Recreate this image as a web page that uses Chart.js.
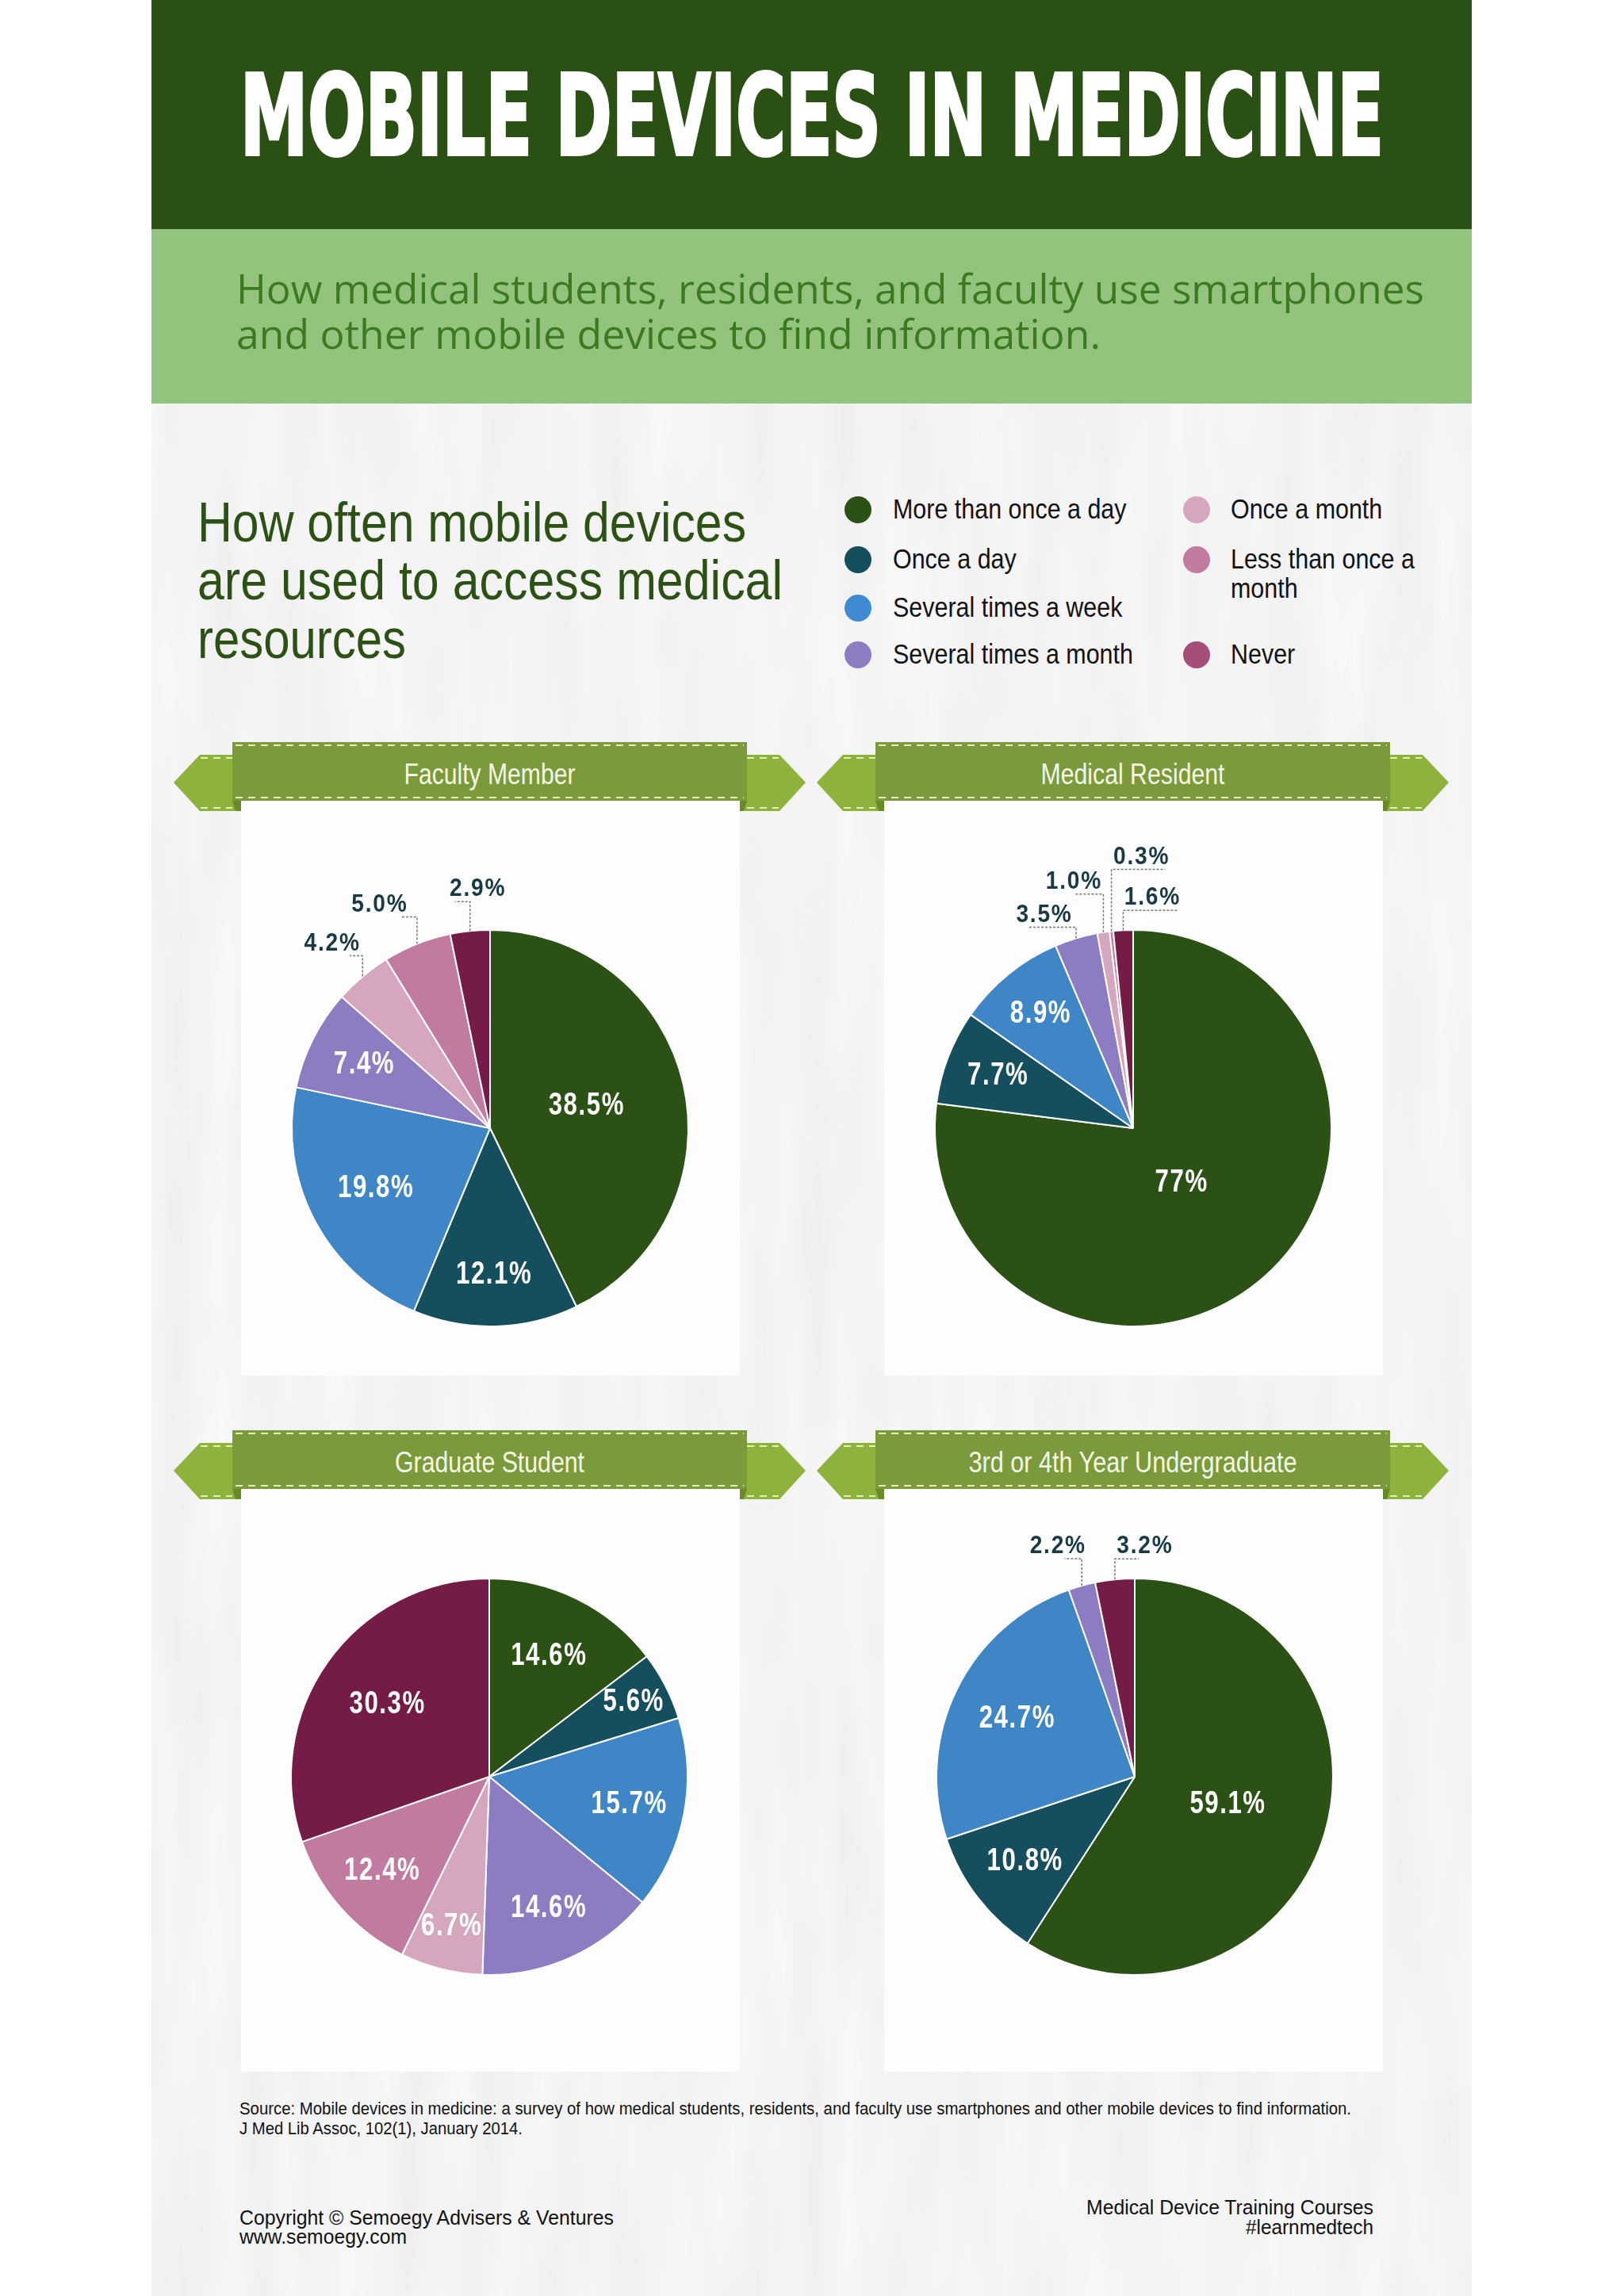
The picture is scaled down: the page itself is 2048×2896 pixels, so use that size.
<!DOCTYPE html>
<html>
<head>
<meta charset="utf-8">
<title>Mobile Devices in Medicine</title>
<script src="https://cdn.jsdelivr.net/npm/chart.js@4.4.1/dist/chart.umd.min.js"></script>
<style>
  html, body { margin: 0; padding: 0; background: #fff; }
  #page { position: relative; width: 2048px; height: 2896px; overflow: hidden; }
  #art { position: absolute; left: 0; top: 0; }
  .pie { position: absolute; width: 800px; height: 800px; }
</style>
</head>
<body>
<div id="page">
  <svg id="art" width="2048" height="2896" xmlns="http://www.w3.org/2000/svg"></svg>
  <canvas id="facultyChart" class="pie" width="800" height="800"></canvas>
  <canvas id="residentChart" class="pie" width="800" height="800"></canvas>
  <canvas id="graduateChart" class="pie" width="800" height="800"></canvas>
  <canvas id="undergradChart" class="pie" width="800" height="800"></canvas>
</div>
<script>
// survey answers, same order for every group
const categories = [
    'More than once a day', 'Once a day', 'Several times a week',
    'Several times a month', 'Once a month', 'Less than once a month', 'Never'
];
const groups = ['Faculty Member', 'Medical Resident', 'Graduate Student', '3rd or 4th Year Undergraduate'];

// percentages as printed on the pies
const facultyValues   = [38.5, 12.1, 19.8, 7.4, 4.2, 5.0, 2.9];
const residentValues  = [77, 7.7, 8.9, 3.5, 1.0, 0.3, 1.6];
const graduateValues  = [14.6, 5.6, 15.7, 14.6, 6.7, 12.4, 30.3];
const undergradValues = [59.1, 10.8, 24.7, 2.2, 0, 0, 3.2];

const sliceColors = ['#2b5114', '#154e5d', '#3f86c7', '#8e7cc3', '#d5a6bd', '#c27ba0', '#741b47'];
const legendDotColors = ['#2b5114', '#154e5d', '#3f8ad2', '#8e7cc3', '#d5a6bd', '#c27ba0', '#a64d79'];

// no narrow face installed: use Liberation Sans squeezed horizontally
const SANS = "'Liberation Sans', Arial, sans-serif";
const SANS_CANVAS = '"Liberation Sans", Arial, sans-serif';

// ---------- static artwork (svg) ----------
const NS = 'http://www.w3.org/2000/svg';
const svg = document.getElementById('art');

function el(tag, attrs, parent) {
    const e = document.createElementNS(NS, tag);
    for (const k in attrs) e.setAttribute(k, attrs[k]);
    (parent || svg).appendChild(e);
    return e;
}
function text(str, attrs) {
    const t = el('text', attrs);
    t.textContent = str;
    return t;
}
const measure = document.createElement('canvas').getContext('2d');
function textWidth(str, size, weight) {
    measure.font = (weight || 'normal') + ' ' + size + 'px ' + SANS_CANVAS;
    return measure.measureText(str).width;
}
function narrowText(str, attrs, size, sx) {
    return text(str, Object.assign({
        'font-family': SANS, 'font-size': size,
        textLength: textWidth(str, size) * sx, lengthAdjust: 'spacingAndGlyphs'
    }, attrs));
}

const defs = el('defs', {});
const paper = el('filter', { id: 'paper', x: 0, y: 0, width: '100%', height: '100%' }, defs);
el('feTurbulence', { type: 'fractalNoise', baseFrequency: '0.02 0.003', numOctaves: 3, seed: 7 }, paper);
el('feColorMatrix', { type: 'saturate', values: 0 }, paper);
const ct = el('feComponentTransfer', {}, paper);
['feFuncR', 'feFuncG', 'feFuncB'].forEach(f => el(f, { type: 'linear', slope: 0.14, intercept: 0.835 }, ct));
el('feFuncA', { type: 'linear', slope: 0, intercept: 1 }, ct);

const SHEET_X = 191, SHEET_W = 1665;
el('rect', { x: SHEET_X, y: 0, width: SHEET_W, height: 2896, fill: '#e7e7e7' });
el('rect', { x: SHEET_X, y: 509, width: SHEET_W, height: 2387, filter: 'url(#paper)' });
el('rect', { x: SHEET_X, y: 0, width: SHEET_W, height: 289, fill: '#2a5014' });
el('rect', { x: SHEET_X, y: 289, width: SHEET_W, height: 220, fill: '#93c47d' });

// header
text('MOBILE DEVICES IN MEDICINE', {
    x: 303, y: 195, 'font-family': "'DejaVu Sans Condensed', 'DejaVu Sans', sans-serif",
    'font-weight': 'bold', 'font-size': 141, fill: '#fff', stroke: '#fff', 'stroke-width': 4,
    textLength: 1442, lengthAdjust: 'spacingAndGlyphs'
});
const subFont = { 'font-family': "'Open Sans', 'Noto Sans', sans-serif", 'font-size': 52, fill: '#3c7a22', lengthAdjust: 'spacingAndGlyphs' };
text('How medical students, residents, and faculty use smartphones', Object.assign({ x: 298, y: 383, textLength: 1498 }, subFont));
text('and other mobile devices to find information.', Object.assign({ x: 298, y: 440, textLength: 1090 }, subFont));

// section heading
const headFont = { 'font-family': SANS, 'font-size': 71, fill: '#2b5114', lengthAdjust: 'spacingAndGlyphs' };
text('How often mobile devices', Object.assign({ x: 249, y: 683, textLength: 692 }, headFont));
text('are used to access medical', Object.assign({ x: 249, y: 756, textLength: 738 }, headFont));
text('resources', Object.assign({ x: 249, y: 830, textLength: 263 }, headFont));

// legend, two columns
const LEG_SIZE = 35, LEG_SX = 0.87;
function wrap(str, maxW) {
    const words = str.split(' ');
    const lines = [];
    let line = '';
    words.forEach(w => {
        const test = line ? line + ' ' + w : w;
        if (line && textWidth(test, LEG_SIZE) * LEG_SX > maxW) { lines.push(line); line = w; }
        else line = test;
    });
    lines.push(line);
    return lines;
}
const legendCols = [
    { dotX: 1082, textX: 1126, maxW: 400, rows: [643, 706, 767, 826], items: [0, 1, 2, 3] },
    { dotX: 1509, textX: 1552, maxW: 250, rows: [643, 706, 826], items: [4, 5, 6] }
];
legendCols.forEach(col => {
    col.items.forEach((idx, r) => {
        const y = col.rows[r];
        el('circle', { cx: col.dotX, cy: y, r: 17, fill: legendDotColors[idx] });
        wrap(categories[idx], col.maxW).forEach((ln, k) => {
            narrowText(ln, { x: col.textX, y: y + 11 + k * 37, fill: '#111' }, LEG_SIZE, LEG_SX);
        });
    });
});

// ribbons + white panels
const RIB_W = 649, RIB_H = 74;
const panels = [
    { L: 293, T: 936, bottom: 1735 },
    { L: 1104, T: 936, bottom: 1735 },
    { L: 293, T: 1804, bottom: 2613 },
    { L: 1104, T: 1804, bottom: 2613 }
];
const titleWidths = [216, 232, 239, 414];

function ribbon(p, title, tw) {
    const L = p.L, T = p.T, R = L + RIB_W, B = T + RIB_H;
    const stitch = { stroke: '#e6efb8', 'stroke-width': 2, 'stroke-dasharray': '9 7', fill: 'none' };
    // tails
    el('polygon', { points: `${L - 74},${T + 51} ${L - 41},${T + 16} ${L + 4},${T + 16} ${L + 4},${B + 13} ${L - 41},${B + 13}`, fill: '#8db33c' });
    el('polygon', { points: `${R + 74},${T + 51} ${R + 41},${T + 16} ${R - 4},${T + 16} ${R - 4},${B + 13} ${R + 41},${B + 13}`, fill: '#8db33c' });
    el('line', Object.assign({ x1: L - 40, y1: T + 20, x2: L, y2: T + 20 }, stitch));
    el('line', Object.assign({ x1: L - 40, y1: B + 9, x2: L, y2: B + 9 }, stitch));
    el('line', Object.assign({ x1: R, y1: T + 20, x2: R + 40, y2: T + 20 }, stitch));
    el('line', Object.assign({ x1: R, y1: B + 9, x2: R + 40, y2: B + 9 }, stitch));
    // folds
    el('polygon', { points: `${L},${B} ${L + 12},${B} ${L + 12},${B + 13} ${L + 4},${B + 13}`, fill: '#6a8a28' });
    el('polygon', { points: `${R},${B} ${R - 12},${B} ${R - 12},${B + 13} ${R - 4},${B + 13}`, fill: '#6a8a28' });
    // body
    el('rect', { x: L, y: T, width: RIB_W, height: RIB_H, fill: '#7b9a3b' });
    el('line', Object.assign({ x1: L + 4, y1: T + 4, x2: R - 4, y2: T + 4 }, stitch));
    el('line', Object.assign({ x1: L + 4, y1: B - 4, x2: R - 4, y2: B - 4 }, stitch));
    text(title, {
        x: L + RIB_W / 2, y: T + 53, 'text-anchor': 'middle', 'font-family': SANS, 'font-size': 36,
        fill: '#f4f8e6', textLength: tw, lengthAdjust: 'spacingAndGlyphs'
    });
    // card
    el('rect', { x: L + 11, y: B, width: 629, height: p.bottom - B, fill: '#fdfdfd' });
}
panels.forEach((p, i) => ribbon(p, groups[i], titleWidths[i]));

// footer
const footFont = { 'font-family': SANS, fill: '#111', lengthAdjust: 'spacingAndGlyphs' };
text('Source: Mobile devices in medicine: a survey of how medical students, residents, and faculty use smartphones and other mobile devices to find information.',
    Object.assign({ x: 302, y: 2667, 'font-size': 22, textLength: 1402 }, footFont));
text('J Med Lib Assoc, 102(1), January 2014.', Object.assign({ x: 302, y: 2692, 'font-size': 22, textLength: 357 }, footFont));
text('Copyright \u00a9 Semoegy Advisers & Ventures', Object.assign({ x: 302, y: 2806, 'font-size': 25, textLength: 472 }, footFont));
text('www.semoegy.com', Object.assign({ x: 302, y: 2830, 'font-size': 25, textLength: 211 }, footFont));
text('Medical Device Training Courses', Object.assign({ x: 1370, y: 2793, 'font-size': 25, textLength: 362 }, footFont));
text('#learnmedtech', Object.assign({ x: 1571, y: 2818, 'font-size': 25, textLength: 161 }, footFont));

// ---------- pies ----------
function formatPct(v) {
    return (Number.isInteger(v) && v >= 10 ? String(v) : v.toFixed(1)) + '%';
}

function drawSqueezed(ctx, str, x, y, sx) {
    ctx.save();
    ctx.translate(x, y);
    ctx.scale(sx, 1);
    ctx.fillText(str, 0, 0);
    ctx.restore();
}

// inside labels sit at a fraction of the radius, small slices get a dotted callout
function labelPlugin(style) {
    return {
        id: 'sliceLabels',
        afterDatasetsDraw(chart) {
            const ctx = chart.ctx;
            const values = chart.data.datasets[0].data;
            ctx.save();
            chart.getDatasetMeta(0).data.forEach((arc, i) => {
                const v = values[i];
                if (!v) return;
                const mid = (arc.startAngle + arc.endAngle) / 2;
                const call = style.callouts[i];
                ctx.textAlign = 'center';
                if (call) {
                    const px = arc.x + Math.cos(mid) * arc.outerRadius;
                    const py = arc.y + Math.sin(mid) * arc.outerRadius;
                    const ey = py - call.lift;
                    ctx.setLineDash([3, 2]);
                    ctx.strokeStyle = '#777';
                    ctx.lineWidth = 1.5;
                    ctx.beginPath();
                    ctx.moveTo(px, py);
                    ctx.lineTo(px, ey);
                    ctx.lineTo(px + call.hx, ey);
                    ctx.stroke();
                    ctx.setLineDash([]);
                    ctx.fillStyle = '#173a45';
                    ctx.font = 'bold 32px ' + SANS_CANVAS;
                    ctx.letterSpacing = '2px';
                    ctx.textBaseline = 'alphabetic';
                    drawSqueezed(ctx, formatPct(v), px + call.lx, ey - 7, 0.88);
                } else {
                    const f = style.radius[i] || 0.7;
                    ctx.fillStyle = '#fff';
                    ctx.font = 'bold 40px ' + SANS_CANVAS;
                    ctx.letterSpacing = '2px';
                    ctx.textBaseline = 'middle';
                    drawSqueezed(ctx, formatPct(v),
                        arc.x + Math.cos(mid) * arc.outerRadius * f,
                        arc.y + Math.sin(mid) * arc.outerRadius * f, 0.78);
                }
            });
            ctx.restore();
        }
    };
}

function makePie(id, values, center, style) {
    const canvas = document.getElementById(id);
    canvas.style.left = (center[0] - 400) + 'px';
    canvas.style.top = (center[1] - 400) + 'px';
    return new Chart(canvas.getContext('2d'), {
        type: 'pie',
        data: {
            labels: categories,
            datasets: [{
                data: values,
                backgroundColor: sliceColors,
                borderColor: '#ffffff',
                borderWidth: 2
            }]
        },
        options: {
            responsive: false,
            animation: false,
            events: [],
            radius: 250,
            layout: { padding: 0 },
            plugins: { legend: { display: false }, tooltip: { enabled: false } }
        },
        plugins: [labelPlugin(style)]
    });
}

makePie('facultyChart', facultyValues, [618, 1423], {
    radius: [0.50, 0.74, 0.65, 0.71],
    callouts: { 4: { lift: 26, hx: -16, lx: -38 }, 5: { lift: 34, hx: -20, lx: -47 }, 6: { lift: 37, hx: -19, lx: 10 } }
});
makePie('residentChart', residentValues, [1429, 1423], {
    radius: [0.37, 0.73, 0.74],
    callouts: { 3: { lift: 14, hx: -61, lx: -40 }, 4: { lift: 48, hx: -36, lx: -37 }, 5: { lift: 78, hx: 68, lx: 38 }, 6: { lift: 25, hx: 70, lx: 37 } }
});
makePie('graduateChart', graduateValues, [617, 2241], {
    radius: [0.68, 0.82, 0.72, 0.73, 0.78, 0.72, 0.63],
    callouts: {}
});
makePie('undergradChart', undergradValues, [1431, 2241], {
    radius: [0.49, 0.70, 0.66],
    callouts: { 3: { lift: 34, hx: -22, lx: -30 }, 6: { lift: 26, hx: 30, lx: 38 } }
});
</script>
</body>
</html>
